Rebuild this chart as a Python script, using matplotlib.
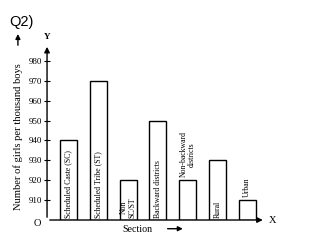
import matplotlib
matplotlib.use("Agg")
import matplotlib.pyplot as plt

categories = ["Scheduled Caste (SC)", "Scheduled Tribe (ST)", "Non\nSC/ST",
              "Backward districts", "Non-backward\ndistricts", "Rural", "Urban"]
values = [940, 970, 920, 950, 920, 930, 910]
label_inside = [True, True, True, True, False, True, False]
yticks = [910, 920, 930, 940, 950, 960, 970, 980]

serif = ["Liberation Serif", "DejaVu Serif"]

fig = plt.figure(figsize=(3.2, 2.4), dpi=100)
fig.patch.set_facecolor("white")
ax = fig.add_axes([0.147, 0.0833, 0.681, 0.729])
ymin, ymax = 900, 988
ax.set_xlim(-0.72, 6.6)
ax.set_ylim(ymin, ymax)

xs = list(range(len(values)))
ax.bar(xs, [v - ymin for v in values], bottom=ymin, width=0.57,
       facecolor="white", edgecolor="black", linewidth=1.0, zorder=2)

for x, v, lab, inside in zip(xs, values, categories, label_inside):
    y0 = ymin + 1 if inside else v + 1.5
    ax.text(x, y0, lab, rotation=90, ha="center", va="bottom",
            fontsize=5.6, family=serif, linespacing=1.0, zorder=3)

for s in ["top", "right", "left", "bottom"]:
    ax.spines[s].set_visible(False)

arrow_kw = dict(arrowstyle="-|>", lw=1.0, color="black", mutation_scale=8)
ax.annotate("", xy=(-0.72, ymax + 0.5), xytext=(-0.72, ymin),
            arrowprops=arrow_kw, annotation_clip=False)
ax.annotate("", xy=(6.62, ymin), xytext=(-0.72, ymin),
            arrowprops=arrow_kw, annotation_clip=False)

ax.set_yticks(yticks)
ax.set_yticklabels([str(t) for t in yticks], family=serif, fontsize=6.5)
ax.tick_params(axis="y", direction="inout", length=5, width=0.8, pad=1)
ax.set_xticks([])

fig.text(0.056, 0.43, "Number of girls per thousand boys", rotation=90,
         ha="center", va="center", fontsize=7.6, family=serif)
fig.add_artist(plt.matplotlib.patches.FancyArrowPatch(
    (0.056, 0.80), (0.056, 0.87), transform=fig.transFigure,
    arrowstyle="-|>", mutation_scale=7, lw=1.0, color="black"))
fig.text(0.147, 0.845, "Y", ha="center", va="center", fontsize=6.5,
         family=serif, weight="bold")
fig.text(0.118, 0.067, "O", ha="center", va="center", fontsize=7.5, family=serif)
fig.text(0.852, 0.083, "X", ha="center", va="center", fontsize=7.5, family=serif)
fig.text(0.43, 0.045, "Section", ha="center", va="center",
         fontsize=7.2, family=serif)
fig.add_artist(plt.matplotlib.patches.FancyArrowPatch(
    (0.515, 0.047), (0.58, 0.047), transform=fig.transFigure,
    arrowstyle="-|>", mutation_scale=7, lw=1.0, color="black"))
fig.text(0.03, 0.91, "Q2)", ha="left", va="center", fontsize=10.5,
         family=["Liberation Sans", "DejaVu Sans"])

fig.savefig("out.png", dpi=100, facecolor="white")
